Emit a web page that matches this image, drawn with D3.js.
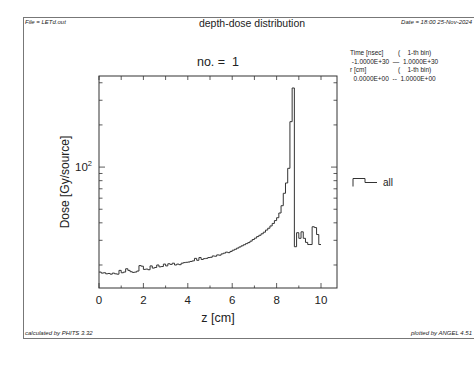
<!DOCTYPE html>
<html lang="en">
<head>
<meta charset="UTF-8">
<title>depth-dose distribution</title>
<script src="https://d3js.org/d3.v7.min.js"></script>
<style>
    body { margin: 0; background: #fff; }
    text { font-family: "Liberation Sans", Arial, sans-serif; fill: #222; }
</style>
</head>
<body>
<div id="chart"></div>
<script>
    // bin edges every 0.1 cm from 0 to 10
    const binStart = 0, binWidth = 0.1;
    const dose = [
        17.8, 17.5, 17.6, 17.3, 17.4, 17.2, 17.5, 17.3, 17.2, 18.3,
        17.6, 17.8, 18.8, 18.3, 17.9, 17.7, 17.8, 18.1, 19.8, 19.6,
        18.6, 18.7, 18.5, 19.7, 19.0, 19.2, 20.0, 19.4, 19.5, 20.3,
        19.7, 20.4, 20.2, 20.6, 20.0, 20.3, 20.1, 20.6, 20.8, 20.9,
        21.0, 21.2, 21.4, 22.3, 21.6, 22.6, 21.9, 22.2, 22.3, 22.6,
        22.7, 23.2, 23.1, 23.6, 23.5, 24.0, 24.3, 24.7, 24.5, 25.0,
        25.5, 25.9, 26.4, 26.9, 27.4, 27.9, 28.4, 28.9, 29.6, 30.4,
        31.1, 31.9, 32.6, 33.4, 34.3, 35.5, 36.6, 38.0, 39.6, 41.5,
        43.5, 47.0, 53.0, 65.0, 77.0, 98.0, 211, 367, 27.0, 34.0,
        31.0, 34.5, 31.0, 29.0, 28.0, 28.0, 37.5, 37.0, 33.0, 28.0
    ];
    const xTicks = [0, 2, 4, 6, 8, 10];
    const xMinor = [1, 3, 5, 7, 9];
    const yMajor = [100];
    const yMinor = [20, 30, 40, 50, 60, 70, 80, 90, 200, 300, 400];
    const infoLines = [
        ["Time [nsec]", "(    1-th bin)"],
        [" -1.0000E+30  \u2014  1.0000E+30", ""],
        ["r [cm]", "(    1-th bin)"],
        ["  0.0000E+00  --  1.0000E+00", ""]
    ];

    const width = 474, height = 366;
    const box = { left: 99, right: 337, top: 76, bottom: 288 };
    const ink = "#333";

    const svg = d3.select("#chart").append("svg")
        .attr("width", width)
        .attr("height", height);

    // outer frame
    svg.append("rect")
        .attr("x", 23.5).attr("y", 17.5)
        .attr("width", 470).attr("height", 321)
        .attr("fill", "none").attr("stroke", "#777").attr("stroke-width", 1);

    const x = d3.scaleLinear().domain([0, 10.72]).range([box.left, box.right]);
    const y = d3.scaleLog().domain([13.7, 447]).range([box.bottom, box.top]);

    // plot box
    svg.append("rect")
        .attr("x", box.left).attr("y", box.top)
        .attr("width", box.right - box.left).attr("height", box.bottom - box.top)
        .attr("fill", "none").attr("stroke", ink).attr("stroke-width", 1);

    // x ticks (bottom and top, pointing inward)
    const g = svg.append("g").attr("stroke", ink).attr("stroke-width", 0.8);
    xTicks.concat(xMinor).forEach(v => {
        const major = xTicks.includes(v);
        g.append("line").attr("x1", x(v)).attr("x2", x(v))
            .attr("y1", box.bottom).attr("y2", box.bottom - (major ? 5 : 2.5));
        g.append("line").attr("x1", x(v)).attr("x2", x(v))
            .attr("y1", box.top).attr("y2", box.top + 4);
    });
    // y ticks (left and right)
    yMajor.concat(yMinor).forEach(v => {
        const len = yMajor.includes(v) ? 6 : 3.5;
        g.append("line").attr("y1", y(v)).attr("y2", y(v))
            .attr("x1", box.left).attr("x2", box.left + len);
        g.append("line").attr("y1", y(v)).attr("y2", y(v))
            .attr("x1", box.right).attr("x2", box.right - len);
    });

    svg.append("g").selectAll("text").data(xTicks).join("text")
        .attr("x", d => x(d)).attr("y", 304)
        .attr("text-anchor", "middle").attr("font-size", 11.5)
        .text(d => d);

    const yl = svg.append("text").attr("x", 92).attr("y", y(100) + 4)
        .attr("text-anchor", "end").attr("font-size", 11.5);
    yl.append("tspan").text("10");
    yl.append("tspan").attr("dy", -5).attr("font-size", 7.5).text("2");

    // histogram as a step line
    const pts = dose.map((v, i) => [binStart + i * binWidth, v]);
    pts.push([binStart + dose.length * binWidth, dose[dose.length - 1]]);
    const line = d3.line().x(d => x(d[0])).y(d => y(d[1])).curve(d3.curveStepAfter);
    svg.append("path").datum(pts)
        .attr("d", line)
        .attr("fill", "none").attr("stroke", ink).attr("stroke-width", 1);

    // titles
    svg.append("text").attr("x", 252).attr("y", 27)
        .attr("text-anchor", "middle").attr("font-size", 10.5)
        .text("depth-dose distribution");
    svg.append("text").attr("x", 218).attr("y", 66)
        .attr("text-anchor", "middle").attr("font-size", 12.5)
        .attr("xml:space", "preserve")
        .text("no. =  1");
    svg.append("text").attr("x", 218).attr("y", 322)
        .attr("text-anchor", "middle").attr("font-size", 12.5)
        .text("z [cm]");
    svg.append("text")
        .attr("transform", `translate(69,${(box.top + box.bottom) / 2}) rotate(-90)`)
        .attr("text-anchor", "middle").attr("font-size", 12)
        .text("Dose [Gy/source]");

    // small italic notes
    const note = (tx, px, py, anchor) => svg.append("text")
        .attr("x", px).attr("y", py).attr("text-anchor", anchor || "start")
        .attr("font-size", 6).attr("font-style", "italic").text(tx);
    note("File = LETd.out", 25, 24);
    note("Date = 18:00 25-Nov-2024", 472, 24, "end");
    note("calculated by PHITS 3.32", 25, 335);
    note("plotted by ANGEL 4.51", 472, 335, "end");

    // info block on the right
    infoLines.forEach((r, i) => {
        svg.append("text").attr("x", 350).attr("y", 55 + i * 8.7)
            .attr("font-size", 6.5).attr("xml:space", "preserve").text(r[0]);
        if (r[1]) svg.append("text").attr("x", 398).attr("y", 55 + i * 8.7)
            .attr("font-size", 6.5).attr("xml:space", "preserve").text(r[1]);
    });

    // legend
    svg.append("path")
        .attr("d", "M353,186.5V178.5H365V182.5H377")
        .attr("fill", "none").attr("stroke", ink).attr("stroke-width", 1);
    svg.append("text").attr("x", 383).attr("y", 186)
        .attr("font-size", 10).text("all");
</script>
</body>
</html>
